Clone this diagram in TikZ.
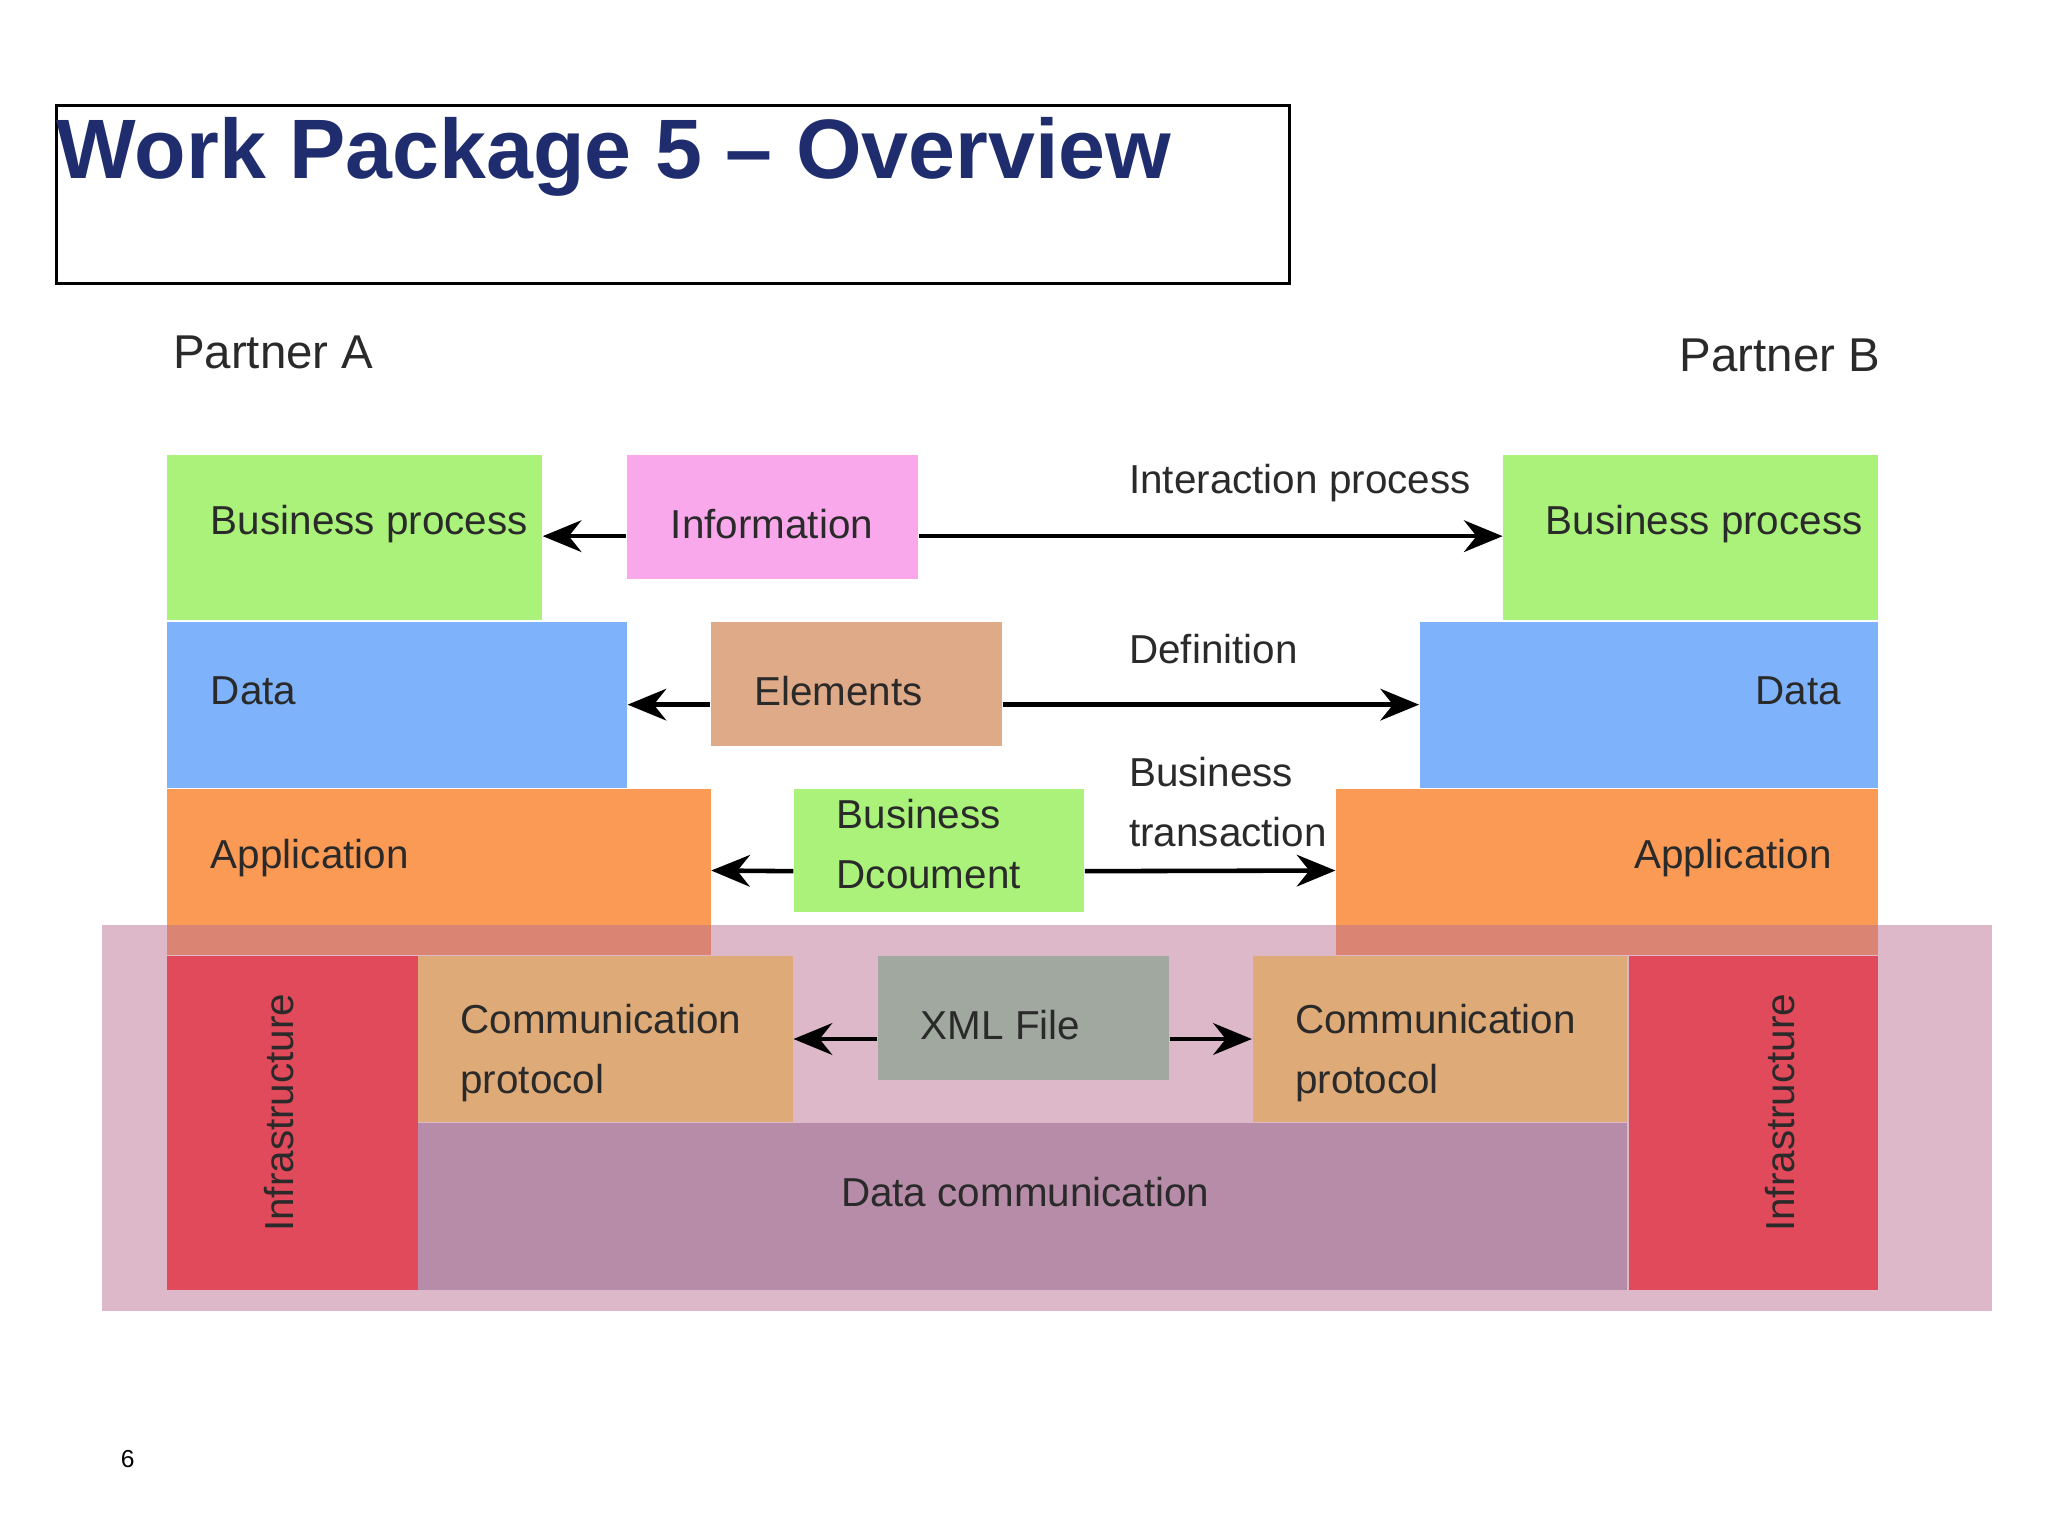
\documentclass[tikz,border=0pt]{standalone}
\usepackage{fontspec}
\setmainfont{Liberation Sans}
\usetikzlibrary{arrows.meta,calc}
\definecolor{navy}{HTML}{1F2D6E}
\definecolor{txt}{HTML}{2A2A2A}
\definecolor{cgreen}{HTML}{AAF27A}
\definecolor{cpinkinfo}{HTML}{F9A8EC}
\definecolor{cblue}{HTML}{7EB3FB}
\definecolor{celem}{HTML}{DEAA88}
\definecolor{corange}{HTML}{FA9A55}
\definecolor{cbg}{HTML}{BB7191}
\definecolor{cred}{HTML}{E04A5A}
\definecolor{ccomm}{HTML}{DEAA78}
\definecolor{cxml}{HTML}{A0A8A0}
\definecolor{cdc}{HTML}{B68CA8}
\newcommand\bx[6]{\node[box,fill=#2,minimum width={(#5-#3)*0.01306cm},minimum height={(#6-#4)*0.01306cm}] (#1) at ({(#3+#5)/2},{(#4+#6)/2}) {};}
\tikzset{
 box/.style={rectangle,draw=none,inner sep=0pt},
 lbl/.style={text=txt,font=\fontsize{11.5}{14}\selectfont,inner sep=0pt},
 arr/.style={line width=1.3pt,-{Stealth[length=11pt,width=9pt]}}
}
\begin{document}
\begin{tikzpicture}[x=0.01306cm,y=-0.01306cm]
\useasboundingbox (0,0) rectangle (1568,1176);
% title
\node[box,draw=black,line width=0.8pt,minimum width={944*0.01306cm},minimum height={136*0.01306cm}] (titlebox) at (515,149) {};
\node[anchor=west,text=navy,font=\fontsize{24}{28}\bfseries\selectfont,inner sep=0pt] (title) at (43,120) {Work Package 5 – Overview};
\node[anchor=west,lbl,font=\fontsize{13.5}{16}\selectfont] (pa) at (132,270) {Partner A};
\node[anchor=east,lbl,font=\fontsize{13.5}{16}\selectfont] (pb) at (1440,272) {Partner B};
% upper boxes
\bx{bpA}{cgreen}{128}{348}{415}{475}
\bx{bpB}{cgreen}{1151}{348}{1438}{475}
\bx{info}{cpinkinfo}{480}{348}{703}{443}
\bx{dA}{cblue}{128}{476}{480}{603}
\bx{dB}{cblue}{1087}{476}{1438}{603}
\bx{elem}{celem}{544}{476}{767}{571}
\bx{apA}{corange}{128}{604}{544}{731}
\bx{apB}{corange}{1023}{604}{1438}{731}
\bx{bdoc}{cgreen}{608}{604}{830}{698}
% background
\fill[cbg,opacity=0.5] (78,708) rectangle (1525,1004);
\bx{infA}{cred}{128}{732}{320}{988}
\bx{infB}{cred}{1247}{732}{1438}{988}
\bx{cpA}{ccomm}{320}{732}{607}{859}
\bx{cpB}{ccomm}{959}{732}{1246}{859}
\bx{xml}{cxml}{672}{732}{895}{827}
\bx{dc}{cdc}{320}{860}{1246}{988}
% labels
\node[lbl,anchor=west] at (161,401) {Business process};
\node[lbl,anchor=west] at (1183,401) {Business process};
\node[lbl] at (591,401) {Information};
\node[lbl,anchor=west] at (161,529) {Data};
\node[lbl,anchor=east] at (1410,529) {Data};
\node[lbl] at (642,529) {Elements};
\node[lbl,anchor=west] at (161,657) {Application};
\node[lbl,anchor=east] at (1403,657) {Application};
\node[lbl,anchor=west,align=left] at (640,646) {Business\\[3pt]Dcoument};
\node[lbl,rotate=90] at (214,852) {Infrastructure};
\node[lbl,rotate=90] at (1363,852) {Infrastructure};
\node[lbl,anchor=west,align=left] at (352,806) {Communication\\[3pt]protocol};
\node[lbl,anchor=west,align=left] at (991,806) {Communication\\[3pt]protocol};
\node[lbl] at (766,785) {XML File};
\node[lbl] at (785,913) {Data communication};
\node[lbl,anchor=west] (ip) at (864,370) {Interaction process};
\node[lbl,anchor=west] (def) at (864,497) {Definition};
\node[lbl,anchor=west,align=left] (bt) at (864,614) {Business\\[3pt]transaction};
\node[anchor=west,text=black,font=\fontsize{7}{8}\selectfont,inner sep=0pt] (pg) at (92,1117) {6};
% arrows
\draw[arr] ($(info.west)+(0,15)$) -- ($(bpA.east)+(0,-1)$);
\draw[arr] ($(info.east)+(0,15)$) -- ($(bpB.west)+(0,-1)$);
\draw[arr] ($(elem.west)+(0,16)$) -- ($(dA.east)+(0,0)$);
\draw[arr] ($(elem.east)+(0,16)$) -- ($(dB.west)+(0,0)$);
\draw[arr] ($(bdoc.west)+(0,16)$) -- ($(apA.east)+(0,-1)$);
\draw[arr] ($(bdoc.east)+(0,16)$) -- ($(apB.west)+(0,-1)$);
\draw[arr] ($(xml.west)+(0,16)$) -- ($(cpA.east)+(0,0)$);
\draw[arr] ($(xml.east)+(0,16)$) -- ($(cpB.west)+(0,0)$);
\end{tikzpicture}
\end{document}
